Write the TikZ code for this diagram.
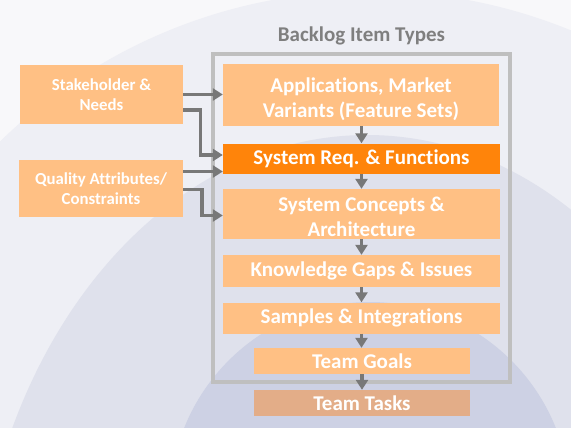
\documentclass[tikz,border=0pt]{standalone}
\usepackage{fontspec}
\setmainfont{Carlito}[Ligatures=NoCommon]
\usetikzlibrary{arrows.meta}
\definecolor{bgzero}{HTML}{F8F8FA}
\definecolor{bgone}{HTML}{EEEFF5}
\definecolor{bgtwo}{HTML}{DFE1EC}
\definecolor{bgthree}{HTML}{CDD1E4}
\definecolor{boxlight}{HTML}{FFC084}
\definecolor{boxhot}{HTML}{FF840A}
\definecolor{boxtask}{HTML}{E3AD88}
\definecolor{framegray}{HTML}{BFBFBF}
\definecolor{arrowgray}{HTML}{787878}
\definecolor{titlegray}{HTML}{7F7F7F}
\newcommand{\twolines}[2]{\raisebox{-5pt}[\height][\depth]{\begin{tabular}{@{}c@{}}#1\\#2\end{tabular}}}
\tikzset{
  itembox/.style={fill=boxlight, text=white, inner sep=0pt, align=center,
    font=\bfseries\fontsize{21}{25}\selectfont},
  sidebox/.style={fill=boxlight, text=white, inner sep=0pt, align=center,
    font=\bfseries\fontsize{16.8}{20}\selectfont},
  flow/.style={draw=arrowgray, line width=3.5pt,
    -{Triangle[length=10pt,width=12pt]}},
}
\begin{document}
\begin{tikzpicture}[x=1pt,y=-1pt]
\useasboundingbox (0,0) rectangle (571,428);
\fill[bgzero] (0,0) rectangle (571,428);
\begin{scope}
\clip (0,0) rectangle (571,428);
\fill[bgone] (370,521) circle[radius=530pt];
\fill[bgtwo] (367,650) ellipse[x radius=393pt, y radius=515pt];
\fill[bgthree] (370,502) circle[radius=200pt];
\end{scope}

\node[draw=framegray, line width=4pt, inner sep=0pt,
  minimum width=296.5pt, minimum height=327.5pt] (frame) at (361.25,218.25) {};
\node[text=titlegray, font=\bfseries\fontsize{21}{24}\selectfont] (title) at (361.5,36) {Backlog Item Types};

\node[itembox, minimum width=276pt, minimum height=62pt] (app) at (361,95)
  {\twolines{Applications, Market}{Variants (Feature Sets)}};
\node[itembox, fill=boxhot, minimum width=277pt, minimum height=30pt] (req) at (361.5,158.5)
  {System Req. \& Functions};
\node[itembox, minimum width=277pt, minimum height=50pt] (con) at (361.5,214)
  {\twolines{System Concepts \&}{Architecture}};
\node[itembox, minimum width=277pt, minimum height=32pt] (kg) at (361.5,271)
  {Knowledge Gaps \& Issues};
\node[itembox, minimum width=277pt, minimum height=31pt] (sam) at (361.5,318)
  {Samples \& Integrations};
\node[itembox, minimum width=216pt, minimum height=26pt] (goals) at (362,361)
  {Team Goals};
\node[itembox, fill=boxtask, minimum width=216pt, minimum height=26pt] (tasks) at (362,403)
  {Team Tasks};

\node[sidebox, minimum width=163pt, minimum height=59pt] (sh) at (101.5,94.5)
  {Stakeholder \&\\Needs};
\node[sidebox, minimum width=164pt, minimum height=57pt] (qa) at (101,188.5)
  {Quality Attributes/\\Constraints};

\draw[flow] (sh.east) -- (sh.east -| app.west);
\draw[flow] ([yshift=-15.5pt]sh.east) -- ++(17.5,0) |- ([yshift=3.5pt]req.west);
\draw[flow] ([yshift=17pt]qa.east) -- ([yshift=17pt]qa.east -| req.west);
\draw[flow] ([yshift=-1pt]qa.east) -- ++(19,0) |- ([yshift=-1.5pt]con.west);

\draw[flow] (app.south -| sam.north) -- (req.north);
\draw[flow] (req.south) -- (con.north);
\draw[flow] (con.south) -- (kg.north);
\draw[flow] (kg.south) -- (sam.north);
\draw[flow] (sam.south) -- (sam.south |- goals.north);
\draw[flow] (goals.south) -- (tasks.north);
\end{tikzpicture}
\end{document}
